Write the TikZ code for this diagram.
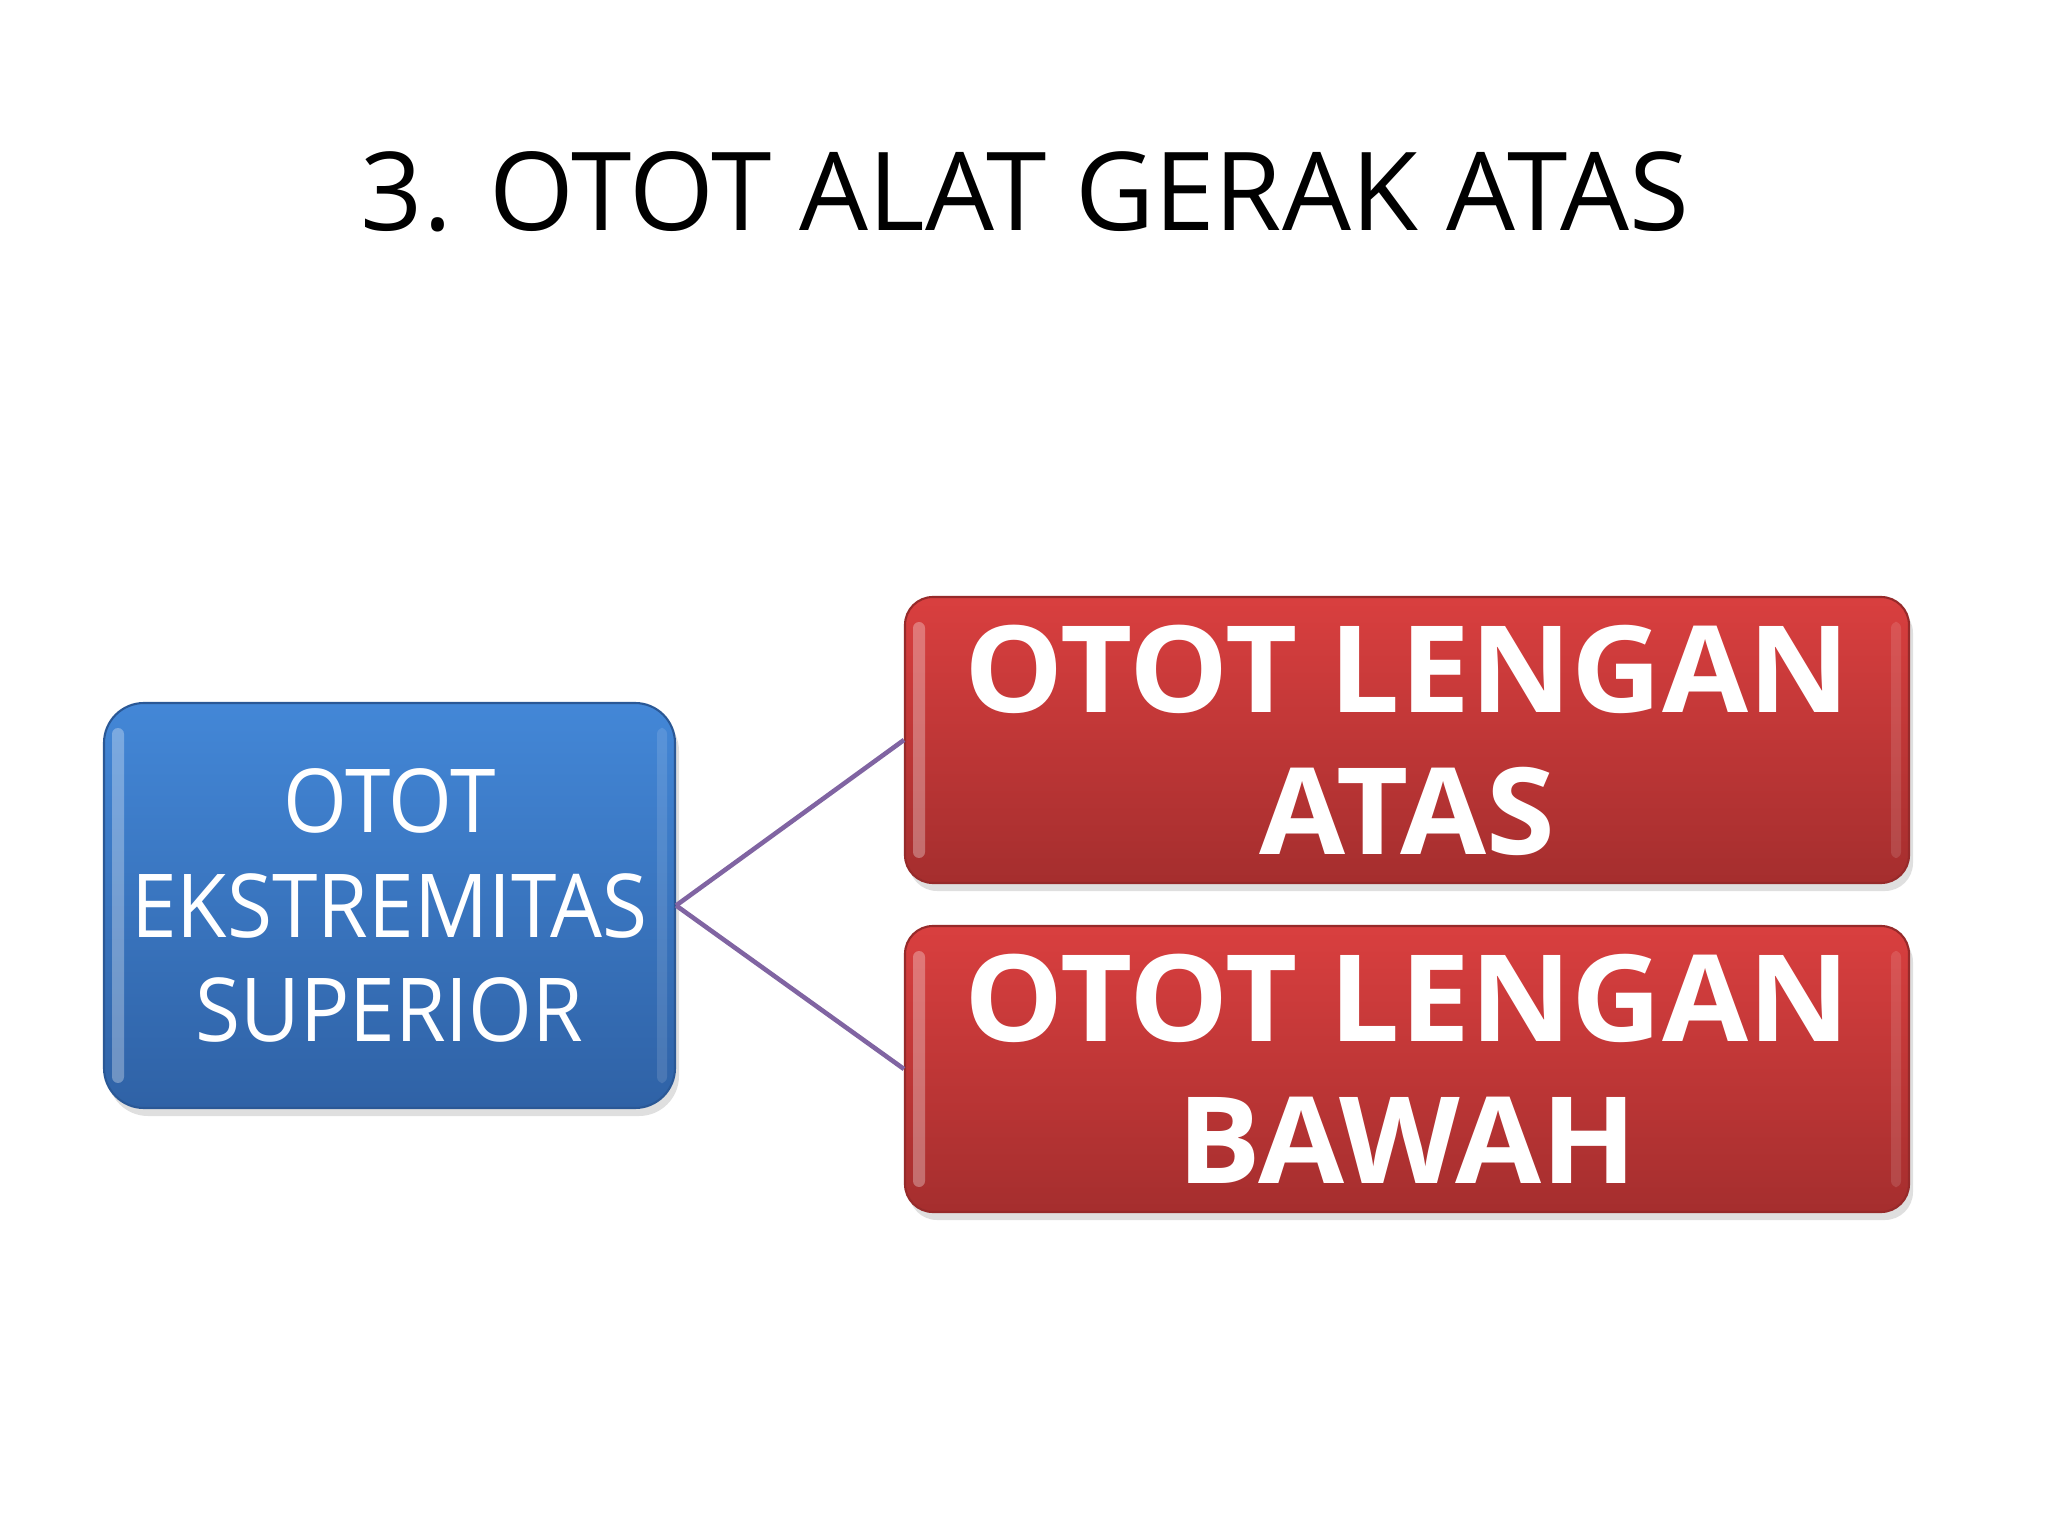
\documentclass[tikz,border=0pt]{standalone}
\usepackage{fontspec}
\setmainfont{Open Sans}
\newfontfamily\boxfont[FakeStretch=0.93]{Open Sans}
\newfontfamily\redfont[FakeStretch=1.035]{Open Sans}
\usepackage{tikz}
\usetikzlibrary{shadows}

\definecolor{bluetop}{HTML}{4387D7}
\definecolor{bluebot}{HTML}{2F62A6}
\definecolor{blueedge}{HTML}{2A5896}
\definecolor{redtop}{HTML}{D93F3F}
\definecolor{redbot}{HTML}{A52E2E}
\definecolor{rededge}{HTML}{962A2A}
\definecolor{linkpurple}{HTML}{8064A2}

\begin{document}
\begin{tikzpicture}[
    gloss/.style={path picture={
        \fill[white, opacity=0.3, rounded corners=0.06cm]
            ([shift={(0.08cm,-0.25cm)}]path picture bounding box.north west)
            rectangle ([shift={(0.2cm,0.25cm)}]path picture bounding box.south west);
        \fill[white, opacity=0.12, rounded corners=0.06cm]
            ([shift={(-0.18cm,-0.25cm)}]path picture bounding box.north east)
            rectangle ([shift={(-0.08cm,0.25cm)}]path picture bounding box.south east);}},
    bluebox/.style={rounded corners=0.4cm, minimum width=5.71cm, minimum height=4.05cm,
        inner sep=0pt, top color=bluetop, bottom color=bluebot, draw=blueedge, line width=0.6pt,
        drop shadow={opacity=0.25, shadow xshift=0.04cm, shadow yshift=-0.08cm}, gloss,
        text=white, align=center, font=\boxfont\fontsize{25.1}{29.7}\selectfont},
    redbox/.style={rounded corners=0.28cm, minimum width=10.04cm, minimum height=2.86cm,
        inner sep=0pt, top color=redtop, bottom color=redbot, draw=rededge, line width=0.6pt,
        drop shadow={opacity=0.25, shadow xshift=0.04cm, shadow yshift=-0.08cm}, gloss,
        text=white, align=center, font=\redfont\bfseries\fontsize{34.3}{40.4}\selectfont},
    link/.style={draw=linkpurple, line width=1.3pt}
  ]
            \useasboundingbox[fill=white] (0,0) rectangle (20.48,-15.36);
            \node[anchor=base, font=\fontsize{31}{36}\selectfont] (title) at (10.25,-2.31){3. OTOT ALAT GERAK ATAS};

            \node[bluebox] (otot) at (3.895,-9.055){OTOT\\EKSTREMITAS\\SUPERIOR};
            \node[redbox] (atas) at (14.07,-7.40){OTOT LENGAN\\ATAS};
            \node[redbox] (bawah) at (14.07,-10.69){OTOT LENGAN\\BAWAH};

            \draw[link] (otot.east) -- (atas.west);
            \draw[link] (otot.east) -- (bawah.west);
\end{tikzpicture}
\end{document}
